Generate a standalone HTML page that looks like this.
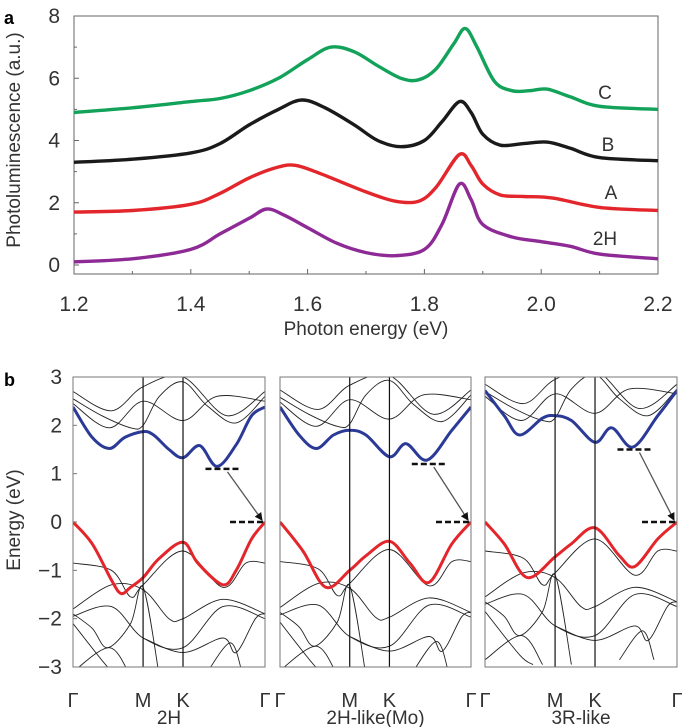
<!DOCTYPE html>
<html><head><meta charset="utf-8">
<style>
html,body{margin:0;padding:0;background:#fff;}
svg{display:block;font-family:"Liberation Sans Narrow","Liberation Sans",sans-serif;}
</style></head>
<body>
<svg id="fig" width="685" height="727" viewBox="0 0 685 727">
<text x="4" y="24" font-size="18" font-weight="bold" font-family="Liberation Sans, sans-serif">a</text>
<text x="4" y="386" font-size="18" font-weight="bold" font-family="Liberation Sans, sans-serif">b</text>
<g id="pa"></g>
<g id="pb"></g>
</svg>
<script>
// ---------- Panel a data ----------
const plXTicks = [1.2,1.4,1.6,1.8,2.0,2.2];
const plXTickLabels = ["1.2","1.4","1.6","1.8","2.0","2.2"];
const plYTicks = [0,2,4,6,8];
const s2H_x = [1.2,1.3,1.4,1.45,1.5,1.53,1.56,1.6,1.65,1.7,1.75,1.8,1.83,1.86,1.88,1.9,1.95,2.0,2.05,2.1,2.2];
const s2H_y = [0.1,0.2,0.5,1.0,1.5,1.8,1.6,1.2,0.7,0.4,0.3,0.5,1.3,2.6,2.1,1.3,0.9,0.75,0.6,0.35,0.2];
const sA_x = [1.2,1.3,1.4,1.45,1.5,1.55,1.58,1.62,1.7,1.75,1.79,1.82,1.86,1.88,1.9,1.93,1.97,2.02,2.1,2.2];
const sA_y = [1.7,1.75,1.95,2.3,2.8,3.15,3.2,2.95,2.35,2.05,2.05,2.5,3.55,3.2,2.6,2.25,2.2,2.15,1.85,1.75];
const sB_x = [1.2,1.3,1.4,1.45,1.5,1.55,1.59,1.63,1.68,1.72,1.76,1.8,1.83,1.86,1.88,1.9,1.93,1.97,2.01,2.05,2.1,2.2];
const sB_y = [3.3,3.4,3.6,3.9,4.5,5.0,5.3,5.05,4.5,4.0,3.8,4.0,4.6,5.25,4.9,4.2,3.85,3.9,3.95,3.75,3.45,3.35];
const sC_x = [1.2,1.3,1.4,1.45,1.5,1.55,1.6,1.64,1.68,1.72,1.76,1.79,1.82,1.85,1.87,1.89,1.92,1.95,1.98,2.01,2.05,2.1,2.2];
const sC_y = [4.9,5.05,5.25,5.35,5.6,6.0,6.6,7.0,6.85,6.4,6.0,5.95,6.3,7.1,7.6,7.0,5.9,5.6,5.6,5.65,5.4,5.1,5.0];
const plLabels = ["2H","A","B","C"];

// ---------- Panel b data (k: 0=Γ, 1=Γ) ----------
const kM = 0.365, kK = 0.573;
const bandYTicks = [3,2,1,0,-1,-2,-3];
const panelNames = ["2H","2H-like(Mo)","3R-like"];
const cb1_k = [0,0.1,0.19,0.27,0.365,0.42,0.5,0.573,0.66,0.75,0.85,0.93,1];
const cb1_e = [2.38,1.75,1.52,1.75,1.87,1.8,1.5,1.33,1.58,1.15,1.6,2.2,2.38];
const vb1_k = [0,0.1,0.2,0.25,0.3,0.365,0.45,0.573,0.65,0.78,0.85,0.93,1];
const vb1_e = [0,-0.45,-1.2,-1.48,-1.35,-1.15,-0.75,-0.42,-0.85,-1.3,-1.0,-0.35,0];
const cb2_k = [0,0.1,0.19,0.28,0.365,0.45,0.573,0.66,0.77,0.9,1];
const cb2_e = [2.38,1.8,1.52,1.8,1.9,1.8,1.35,1.62,1.28,1.9,2.38];
const vb2_k = [0,0.12,0.24,0.365,0.45,0.573,0.68,0.78,0.9,1];
const vb2_e = [0,-0.6,-1.35,-1.0,-0.7,-0.4,-0.85,-1.25,-0.45,0];
const cb3_k = [0,0.1,0.18,0.3,0.365,0.45,0.573,0.66,0.77,0.9,1];
const cb3_e = [2.72,2.2,1.8,2.15,2.2,2.1,1.65,1.95,1.55,2.2,2.72];
const vb3_k = [0,0.1,0.22,0.365,0.45,0.573,0.7,0.78,0.9,1];
const vb3_e = [0,-0.45,-1.15,-0.72,-0.45,-0.12,-0.7,-0.92,-0.35,0];
const vbmE = [0,0,0];
const cbmE = [1.1,1.2,1.5];
const bgBands_k = [
 [0,0.19,0.365,0.573,0.75,1],
 [0,0.2,0.365,0.573,0.8,1],
 [0,0.15,0.3,0.365,0.45,0.573,0.7,0.85,1],
 [0,0.2,0.3,0.365,0.573,0.78,0.9,1],
 [0,0.2,0.365,0.5,0.573,0.78,1],
 [0,0.2,0.365,0.573,0.78,1],
 [0,0.1,0.18,0.3,0.365,0.45],
 [0,0.18,0.25],
 [0,0.19,0.3],
 [0.365,0.573,0.78,0.85,0.95,1],
 [0.7,0.82,0.88]
];
const bgBands_e = [
 [2.45,1.95,2.5,2.1,2.6,2.5],
 [2.7,2.3,2.8,3.0,2.2,2.7],
 [2.55,2.2,1.95,2.0,2.6,2.9,2.4,2.05,2.6],
 [-0.85,-1.0,-1.55,-1.3,-0.6,-1.35,-0.85,-0.85],
 [-1.8,-1.3,-1.4,-2.0,-2.0,-1.6,-1.9],
 [-1.95,-1.75,-2.4,-2.6,-1.75,-2.0],
 [-1.9,-2.2,-2.6,-2.1,-1.35,-3.2],
 [-2.1,-3.0,-3.2],
 [-3.1,-2.6,-3.2],
 [-2.4,-2.7,-2.4,-2.7,-2.0,-1.9],
 [-3.1,-2.5,-3.1]
];

const NS="http://www.w3.org/2000/svg";
function mk(tag, attrs, parent){const e=document.createElementNS(NS,tag);for(const k in attrs)e.setAttribute(k,attrs[k]);parent.appendChild(e);return e;}
function smooth(pts){
  let d="M"+pts[0][0].toFixed(1)+","+pts[0][1].toFixed(1);
  for(let i=0;i<pts.length-1;i++){
    const p0=pts[i-1]||pts[i],p1=pts[i],p2=pts[i+1],p3=pts[i+2]||p2;
    const c1=[p1[0]+(p2[0]-p0[0])/6,p1[1]+(p2[1]-p0[1])/6];
    const c2=[p2[0]-(p3[0]-p1[0])/6,p2[1]-(p3[1]-p1[1])/6];
    d+="C"+c1.map(v=>v.toFixed(1))+" "+c2.map(v=>v.toFixed(1))+" "+p2.map(v=>v.toFixed(1));
  }
  return d;
}

// ---------- Panel a ----------
const pa=document.getElementById('pa');
const ax={l:74,r:658,y0:265,y8:16,bot:274};
const X=v=>ax.l+(v-1.2)/(1.0)*(ax.r-ax.l);
const Y=v=>ax.y0+(v/8)*(ax.y8-ax.y0);
let el;
el=mk('path',{d:`M${ax.l},${ax.y8} H${ax.r} V${ax.bot} H${ax.l} Z`,fill:'none',stroke:'#666','stroke-width':1},pa);


plXTicks.forEach((t,i)=>{
  mk('line',{x1:X(t),x2:X(t),y1:ax.bot,y2:ax.bot-5,stroke:'#666'},pa);
  if(i<plXTicks.length-1) mk('line',{x1:X(t+0.1),x2:X(t+0.1),y1:ax.bot,y2:ax.bot-3,stroke:'#666'},pa);
  const tx=mk('text',{x:X(t),y:ax.bot+37,'font-size':21,'text-anchor':'middle',fill:'#333'},pa);
  tx.textContent=plXTickLabels[i];
  
  
});
plYTicks.forEach(t=>{
  mk('line',{x1:ax.l,x2:ax.l+5,y1:Y(t),y2:Y(t),stroke:'#666'},pa);
  if(t<8) mk('line',{x1:ax.l,x2:ax.l+3,y1:Y(t+1),y2:Y(t+1),stroke:'#666'},pa);
  const tx=mk('text',{x:ax.l-14,y:Y(t)+7,'font-size':21,'text-anchor':'end',fill:'#333'},pa);
  tx.textContent=String(t);
  
  
});
el=mk('text',{x:366,y:335,'font-size':19,'text-anchor':'middle',fill:'#333'},pa);
el.textContent="Photon energy (eV)";


el=mk('text',{x:0,y:0,'font-size':19,'text-anchor':'middle',fill:'#333',transform:'translate(20,140) rotate(-90)'},pa);
el.textContent="Photoluminescence (a.u.)";


const series=[[s2H_x,s2H_y,'#8e2a96'],[sA_x,sA_y,'#e3262b'],[sB_x,sB_y,'#1a1a1a'],[sC_x,sC_y,'#12a259']];
const labPos=[[605,245],[611,199],[608,151],[605,99]];
series.forEach((s,i)=>{
  const pts=s[0].map((x,j)=>[X(x),Y(s[1][j])]);
  const p=mk('path',{d:smooth(pts),fill:'none',stroke:s[2],'stroke-width':3.4,'stroke-linejoin':'round'},pa);
  
  
  const t=mk('text',{x:labPos[i][0],y:labPos[i][1],'font-size':19,'text-anchor':'middle',fill:'#333'},pa);
  t.textContent=plLabels[i];
  
  
});

// ---------- Panel b ----------
const pb=document.getElementById('pb');
const bTop=377,bBot=667;
const E=v=>bBot-(v+3)/6*(bBot-bTop);
const panels=[[73,265],[280,471],[485,677]];
const cbs=[[cb1_k,cb1_e],[cb2_k,cb2_e],[cb3_k,cb3_e]];
const vbs=[[vb1_k,vb1_e],[vb2_k,vb2_e],[vb3_k,vb3_e]];
const defs=mk('defs',{},pb);
const mkr=mk('marker',{id:'arr',markerWidth:8,markerHeight:8,refX:7,refY:4,orient:'auto',markerUnits:'userSpaceOnUse'},defs);
mk('path',{d:'M0,0 L8,4 L0,8 Z',fill:'#111'},mkr);
bandYTicks.forEach(t=>{
  const tx=mk('text',{x:62,y:E(t)+7,'font-size':21,'text-anchor':'end',fill:'#333'},pb);
  tx.textContent=t<0?"\u2212"+(-t):String(t);
  
  
});
el=mk('text',{x:0,y:0,'font-size':19,'text-anchor':'middle',fill:'#333',transform:'translate(20,520) rotate(-90)'},pb);
el.textContent="Energy (eV)";


panels.forEach((pp,pi)=>{
  const [l,r]=pp;
  const K=k=>l+k*(r-l);
  const g=mk('g',{},pb);
  
  
  const cp=mk('clipPath',{id:'cp'+pi},defs);
  mk('rect',{x:l,y:bTop,width:r-l,height:bBot-bTop},cp);
  const cg=mk('g',{'clip-path':`url(#cp${pi})`},g);
  bgBands_k.forEach((bk,bi)=>{
    const off=pi===2?(bgBands_e[bi][0]>0?0.15:0.25):(pi===1?0.03:0);
    const pts=bk.map((k,j)=>[K(k),E(bgBands_e[bi][j]+off)]);
    const p=mk('path',{d:smooth(pts),fill:'none',stroke:'#222','stroke-width':0.9},cg);
    
    
  });
  const cb=mk('path',{d:smooth(cbs[pi][0].map((k,j)=>[K(k),E(cbs[pi][1][j])])),fill:'none',stroke:'#2b3a96','stroke-width':3},cg);
  
  
  const vb=mk('path',{d:smooth(vbs[pi][0].map((k,j)=>[K(k),E(vbs[pi][1][j])])),fill:'none',stroke:'#e3262b','stroke-width':3},cg);
  
  
  [kM,kK].forEach(k=>mk('line',{x1:K(k),x2:K(k),y1:bTop,y2:bBot,stroke:'#111','stroke-width':1.2},g));
  mk('rect',{x:l,y:bTop,width:r-l,height:bBot-bTop,fill:'none',stroke:'#777'},g);
  if(pi===0){bandYTicks.forEach(t=>mk('line',{x1:l,x2:l+4,y1:E(t),y2:E(t),stroke:'#777'},g));}
  const cx=K(0.69);
  const d1=mk('line',{x1:cx,x2:cx+35,y1:E(cbmE[pi]),y2:E(cbmE[pi]),stroke:'#111','stroke-width':2.5,'stroke-dasharray':'6,3'},g);
  
  
  const d2=mk('line',{x1:r-35,x2:r,y1:E(vbmE[pi]),y2:E(vbmE[pi]),stroke:'#111','stroke-width':2.5,'stroke-dasharray':'6,3'},g);
  
  
  const ar=mk('line',{x1:cx+22,y1:E(cbmE[pi])+3,x2:r-3,y2:E(vbmE[pi])-2,stroke:'#555','stroke-width':1.3,'marker-end':'url(#arr)'},g);
  
  
  [[0,'\u0393'],[kM,'M'],[kK,'K'],[1,'\u0393']].forEach(([k,s])=>{
    const t=mk('text',{x:K(k),y:707,'font-size':20,'text-anchor':'middle',fill:'#333'},g);
    t.textContent=s;
    
    
  });
  const nm=mk('text',{x:(l+r)/2,y:724,'font-size':19,'text-anchor':'middle',fill:'#333'},g);
  nm.textContent=panelNames[pi];
  
  
});
</script>
</body></html>
